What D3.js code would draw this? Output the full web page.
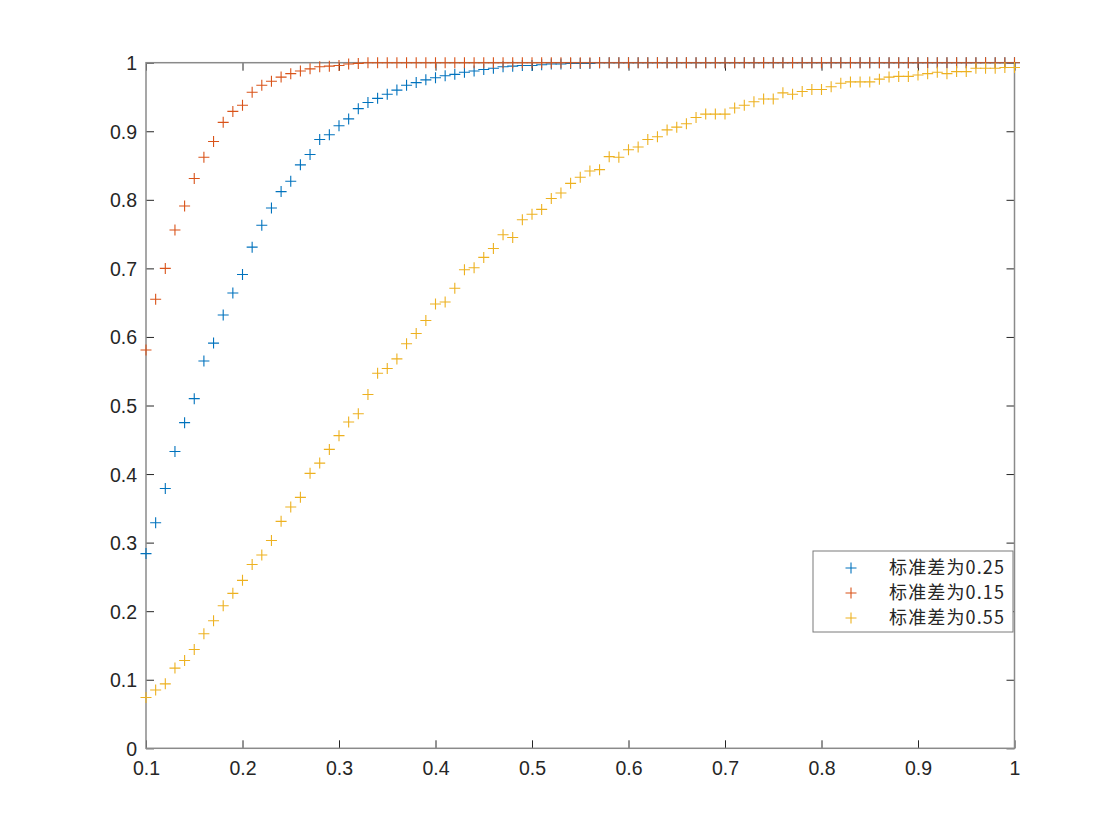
<!DOCTYPE html>
<html>
<head>
<meta charset="utf-8">
<script src="https://cdn.jsdelivr.net/npm/d3@7/dist/d3.min.js"></script>
<style>
    html, body { margin: 0; padding: 0; background: #fff; }
    svg { display: block; font-family: "Liberation Sans", Arial, "Noto Sans CJK SC", sans-serif; }
</style>
</head>
<body>
<div id="chart"></div>
<script>
// sample points on the x axis
const xValues = [
    0.10, 0.11, 0.12, 0.13, 0.14, 0.15, 0.16, 0.17, 0.18, 0.19,
    0.20, 0.21, 0.22, 0.23, 0.24, 0.25, 0.26, 0.27, 0.28, 0.29,
    0.30, 0.31, 0.32, 0.33, 0.34, 0.35, 0.36, 0.37, 0.38, 0.39,
    0.40, 0.41, 0.42, 0.43, 0.44, 0.45, 0.46, 0.47, 0.48, 0.49,
    0.50, 0.51, 0.52, 0.53, 0.54, 0.55, 0.56, 0.57, 0.58, 0.59,
    0.60, 0.61, 0.62, 0.63, 0.64, 0.65, 0.66, 0.67, 0.68, 0.69,
    0.70, 0.71, 0.72, 0.73, 0.74, 0.75, 0.76, 0.77, 0.78, 0.79,
    0.80, 0.81, 0.82, 0.83, 0.84, 0.85, 0.86, 0.87, 0.88, 0.89,
    0.90, 0.91, 0.92, 0.93, 0.94, 0.95, 0.96, 0.97, 0.98, 0.99,
    1.00
];

// series
const sd25 = [
    0.284, 0.329, 0.379, 0.433, 0.475, 0.510, 0.565, 0.591, 0.632, 0.664,
    0.691, 0.731, 0.763, 0.788, 0.812, 0.827, 0.851, 0.866, 0.888, 0.895,
    0.908, 0.918, 0.933, 0.942, 0.948, 0.954, 0.960, 0.967, 0.971, 0.975,
    0.978, 0.981, 0.983, 0.986, 0.988, 0.990, 0.992, 0.994, 0.995, 0.996,
    0.996, 0.997, 0.998, 0.998, 0.999, 0.999, 0.999, 1, 1, 1,
    1, 1, 1, 1, 1, 1, 1, 1, 1, 1,
    1, 1, 1, 1, 1, 1, 1, 1, 1, 1,
    1, 1, 1, 1, 1, 1, 1, 1, 1, 1,
    1, 1, 1, 1, 1, 1, 1, 1, 1, 1,
    1
];

const sd15 = [
    0.581, 0.655, 0.700, 0.756, 0.791, 0.831, 0.862, 0.885, 0.913, 0.929,
    0.938, 0.957, 0.967, 0.973, 0.979, 0.984, 0.988, 0.991, 0.994, 0.995,
    0.996, 0.998, 0.999, 1, 1, 1, 1, 1, 1, 1,
    1, 1, 1, 1, 1, 1, 1, 1, 1, 1,
    1, 1, 1, 1, 1, 1, 1, 1, 1, 1,
    1, 1, 1, 1, 1, 1, 1, 1, 1, 1,
    1, 1, 1, 1, 1, 1, 1, 1, 1, 1,
    1, 1, 1, 1, 1, 1, 1, 1, 1, 1,
    1, 1, 1, 1, 1, 1, 1, 1, 1, 1,
    1
];

const sd55 = [
    0.074, 0.085, 0.094, 0.117, 0.128, 0.144, 0.167, 0.186, 0.208, 0.226,
    0.245, 0.268, 0.282, 0.303, 0.331, 0.352, 0.366, 0.401, 0.416, 0.436,
    0.456, 0.476, 0.488, 0.516, 0.547, 0.554, 0.568, 0.590, 0.605, 0.624,
    0.648, 0.651, 0.671, 0.698, 0.701, 0.716, 0.729, 0.749, 0.745, 0.771,
    0.779, 0.786, 0.802, 0.810, 0.824, 0.833, 0.842, 0.844, 0.863, 0.862,
    0.873, 0.877, 0.888, 0.892, 0.902, 0.906, 0.911, 0.920, 0.925, 0.925,
    0.925, 0.934, 0.938, 0.943, 0.947, 0.947, 0.956, 0.954, 0.958, 0.961,
    0.961, 0.965, 0.970, 0.972, 0.972, 0.972, 0.976, 0.979, 0.980, 0.980,
    0.982, 0.984, 0.986, 0.984, 0.987, 0.987, 0.992, 0.992, 0.992, 0.993,
    0.993
];

const seriesNames = ['标准差为0.25', '标准差为0.15', '标准差为0.55'];
const seriesColors = ['#0072BD', '#D95319', '#EDB120'];
const xTicks = [0.1, 0.2, 0.3, 0.4, 0.5, 0.6, 0.7, 0.8, 0.9, 1];
const yTicks = [0, 0.1, 0.2, 0.3, 0.4, 0.5, 0.6, 0.7, 0.8, 0.9, 1];

const W = 1120, H = 840;
const margin = {t: 62.7, r: 105.5, b: 91.7, l: 146};
const w = W - margin.l - margin.r;
const h = H - margin.t - margin.b;

const series = [sd25, sd15, sd55].map((vals, i) => ({
    name: seriesNames[i],
    color: seriesColors[i],
    points: vals.map((v, j) => ({x: xValues[j], y: v}))
}));

const x = d3.scaleLinear().domain([0.1, 1]).range([0, w]);
const y = d3.scaleLinear().domain([0, 1]).range([h, 0]);

const svg = d3.select('#chart')
    .append('svg')
    .attr('width', W)
    .attr('height', H);

const plot = svg.append('g')
    .attr('transform', `translate(${margin.l},${margin.t})`);

// plus marker
const half = 5.5;
const plusPath = `M${-half},0H${half}M0,${-half}V${half}`;

// axes with inward ticks
const fmt = d => d === 1 ? '1' : d === 0 ? '0' : d3.format('.1f')(d);

const xAxis = plot.append('g')
    .attr('transform', `translate(0,${h})`)
    .call(d3.axisBottom(x).tickValues(xTicks).tickFormat(fmt).tickSize(-8).tickPadding(13));
const yAxis = plot.append('g')
    .call(d3.axisLeft(y).tickValues(yTicks).tickFormat(fmt).tickSize(-8).tickPadding(9));
// top and right ticks
const xTop = plot.append('g')
    .call(d3.axisTop(x).tickValues(xTicks).tickFormat('').tickSize(-8));
const yRight = plot.append('g')
    .attr('transform', `translate(${w},0)`)
    .call(d3.axisRight(y).tickValues(yTicks).tickFormat('').tickSize(-8));

[xAxis, yAxis, xTop, yRight].forEach(g => {
    g.select('.domain').remove();
    g.selectAll('.tick line').attr('stroke', '#262626').attr('stroke-width', 1);
    g.selectAll('.tick text')
        .attr('fill', '#262626')
        .style('font-size', '19.5px');
});
yAxis.selectAll('.tick text').attr('dy', '0.36em');

// box
plot.append('rect')
    .attr('x', 0).attr('y', 0)
    .attr('width', w).attr('height', h)
    .attr('fill', 'none')
    .attr('stroke', '#8a8a8a')
    .attr('stroke-width', 1.5);

// markers
const groups = plot.selectAll('.series')
    .data(series)
    .enter()
    .append('g')
    .attr('class', 'series')
    .attr('stroke', d => d.color)
    .attr('stroke-width', 1.1)
    .attr('fill', 'none');

groups.selectAll('path')
    .data(d => d.points)
    .enter()
    .append('path')
    .attr('d', plusPath)
    .attr('transform', d => `translate(${x(d.x)},${y(d.y)})`);

// legend
const legend = svg.append('g')
    .attr('transform', 'translate(813,551)');
legend.append('rect')
    .attr('width', 200)
    .attr('height', 81)
    .attr('fill', '#fff')
    .attr('stroke', '#7a7a7a')
    .attr('stroke-width', 1);

const items = legend.selectAll('.item')
    .data(series)
    .enter()
    .append('g')
    .attr('class', 'item')
    .attr('transform', (d, i) => `translate(0,${17 + i * 25})`);
items.append('path')
    .attr('d', plusPath)
    .attr('transform', 'translate(38,0)')
    .attr('stroke', d => d.color)
    .attr('stroke-width', 1.1);
items.append('text')
    .attr('x', 76)
    .attr('dy', '0.36em')
    .attr('fill', '#262626')
    .attr('textLength', 115)
    .attr('lengthAdjust', 'spacing')
    .style('font-size', '18px')
    .style('font-family', '"Noto Sans CJK SC", "Liberation Sans", sans-serif')
    .text(d => d.name);
</script>
</body>
</html>
